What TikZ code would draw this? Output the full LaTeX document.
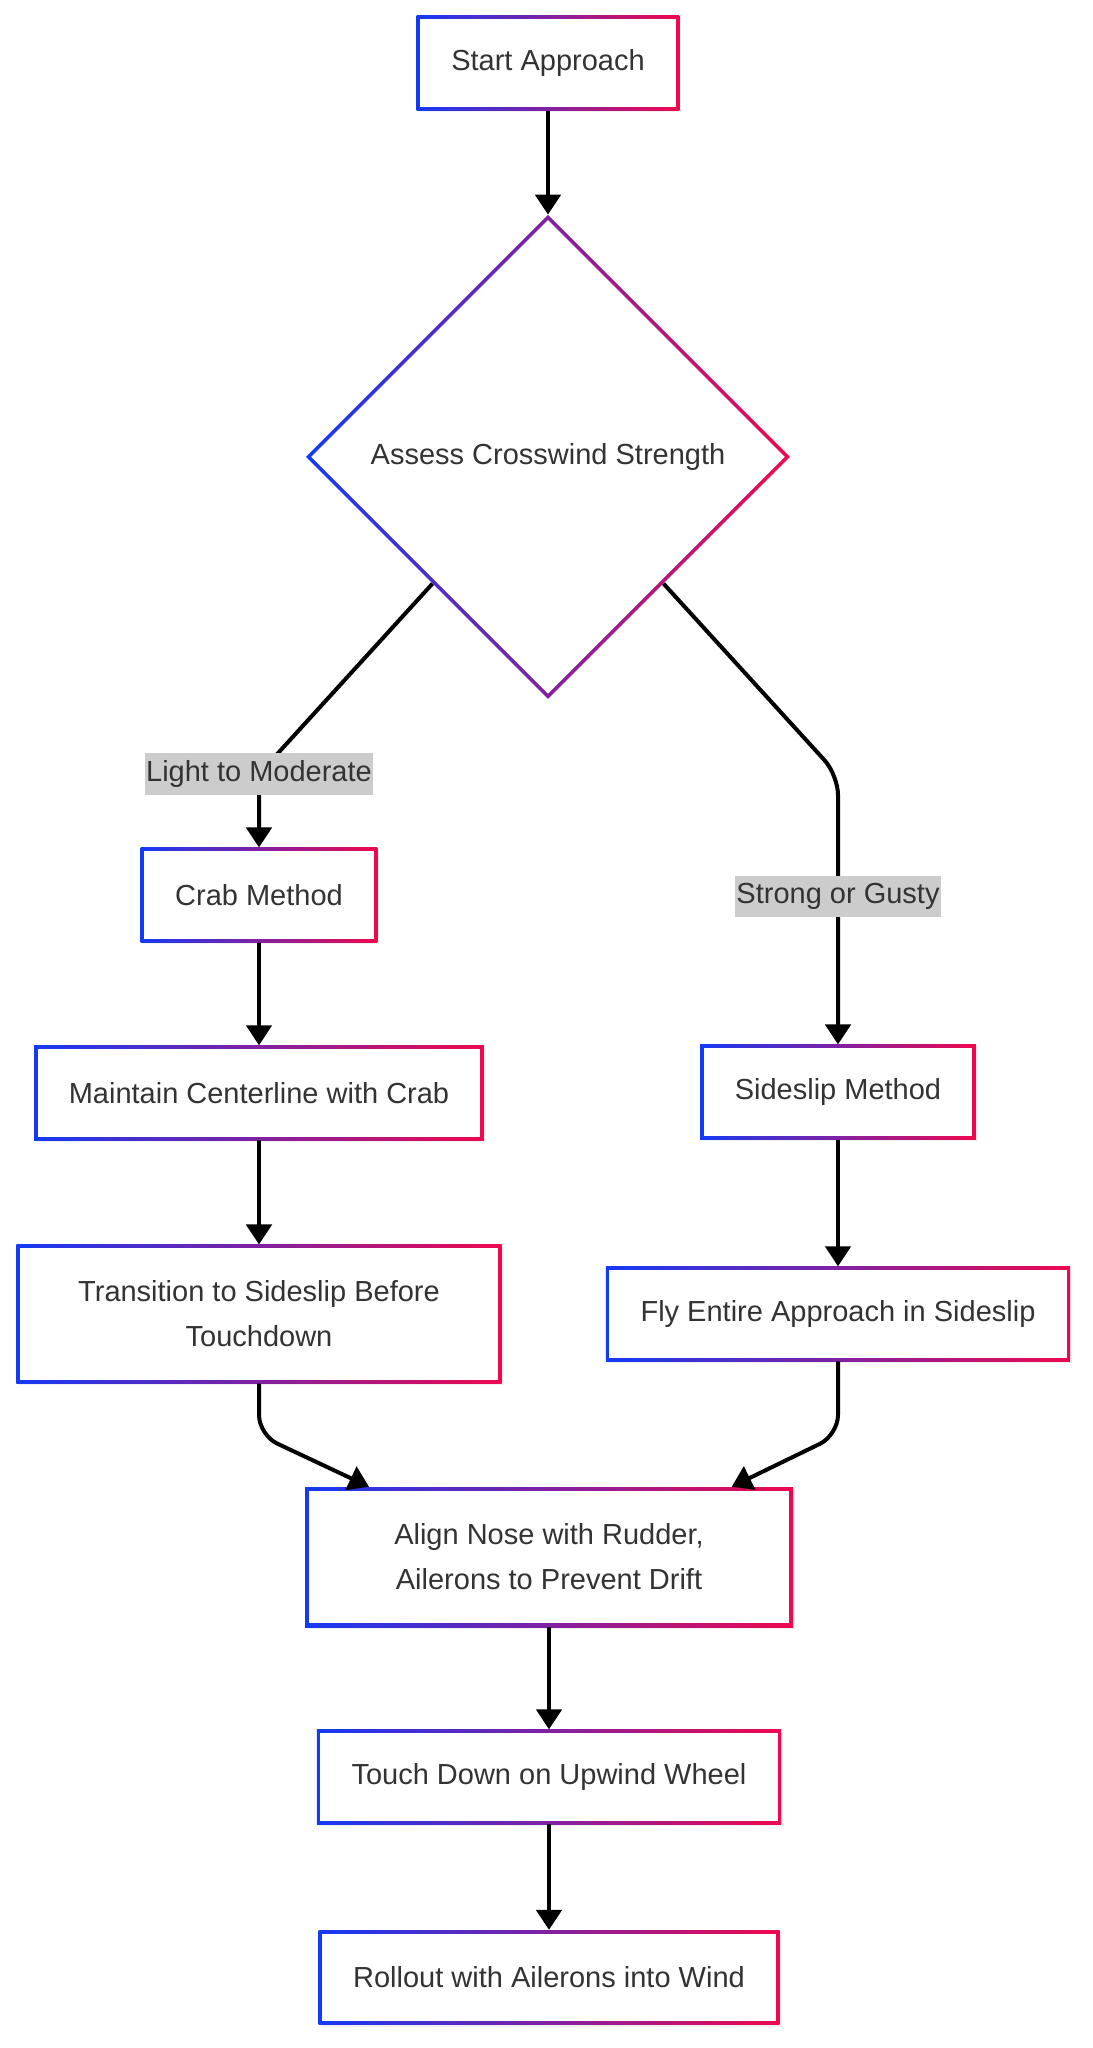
\documentclass[tikz,border=0pt]{standalone}
\usepackage{fontspec}
\setmainfont{Liberation Sans}
\usetikzlibrary{shapes.geometric,arrows.meta,positioning,shadows}
\definecolor{edgeblue}{RGB}{20,58,245}
\definecolor{edgered}{RGB}{238,8,78}
\definecolor{inkgray}{RGB}{51,51,51}
\definecolor{labelgray}{RGB}{204,204,204}

\begin{document}
\begin{tikzpicture}[x=0.75pt, y=-0.75pt,
box/.style={rectangle, left color=edgeblue, right color=edgered, minimum height=71pt, inner xsep=26pt, inner ysep=0pt, align=center, text=inkgray, font=\fontsize{21.75}{33.75}\selectfont, drop shadow={shadow xshift=1.5pt, shadow yshift=-1.5pt, opacity=0.12}, path picture={\fill[white] ([shift={(2.7pt,-2.7pt)}]path picture bounding box.north west) rectangle ([shift={(-2.7pt,2.7pt)}]path picture bounding box.south east);}},
decision/.style={diamond, aspect=1, minimum size=363pt, inner sep=0pt, left color=edgeblue, right color=edgered, align=center, text=inkgray, font=\fontsize{21.75}{33.75}\selectfont, path picture={\fill[white] ([yshift=-3.8pt]path picture bounding box.north) -- ([xshift=3.8pt]path picture bounding box.west) -- ([yshift=3.8pt]path picture bounding box.south) -- ([xshift=-3.8pt]path picture bounding box.east) -- cycle;}},
lbl/.style={sharp corners, fill=labelgray, text=inkgray, font=\fontsize{21.75}{26}\selectfont, inner xsep=1pt, inner ysep=0pt, minimum height=31pt},
flow/.style={-{Triangle[length=15pt, width=19pt]}, line width=3pt, black, rounded corners=15pt}]

\useasboundingbox (0,0) rectangle (1092,2048);

\node[box] (start) at (548,63) {Start Approach};

\node[decision, below=78pt of start] (dia) {Assess Crosswind Strength};

\coordinate (lbend) at (259,774);
\coordinate (rbend) at (838,775);

\node[box] (crab) at (259,895) {Crab Method};

\node[box] (side) at (838,1092) {Sideslip Method};

\node[box, below=77pt of crab] (maint) {Maintain Centerline with Crab};

\node[box, below=78pt of maint, minimum width=364pt, minimum height=104pt] (trans) {Transition to Sideslip Before\\Touchdown};

\node[box, below=95pt of side] (fly) {Fly Entire Approach in Sideslip};

\coordinate (lmerge) at (259,1435);
\coordinate (rmerge) at (838,1435);

\node[box, minimum width=366pt, minimum height=105pt] (align) at (549,1557) {Align Nose with Rudder,\\Ailerons to Prevent Drift};

\node[box, below=76.5pt of align] (touch) {Touch Down on Upwind Wheel};

\node[box, below=79pt of touch] (roll) {Rollout with Ailerons into Wind};

\draw[flow] (start) -- (dia);

\draw[flow] (dia) -- (lbend) node[lbl] {Light to Moderate} -- (crab);

\draw[flow] (dia) -- (rbend) -- node[lbl, pos=0.45] {Strong or Gusty} (side);

\draw[flow] (crab) -- (maint);

\draw[flow] (maint) -- (trans);

\draw[flow] (side) -- (fly);

\draw[flow] (trans) -- (lmerge) -- ([xshift=-135pt]align.north);

\draw[flow] (fly) -- (rmerge) -- ([xshift=137pt]align.north);

\draw[flow] (align) -- (touch);

\draw[flow] (touch) -- (roll);

\end{tikzpicture}
\end{document}
